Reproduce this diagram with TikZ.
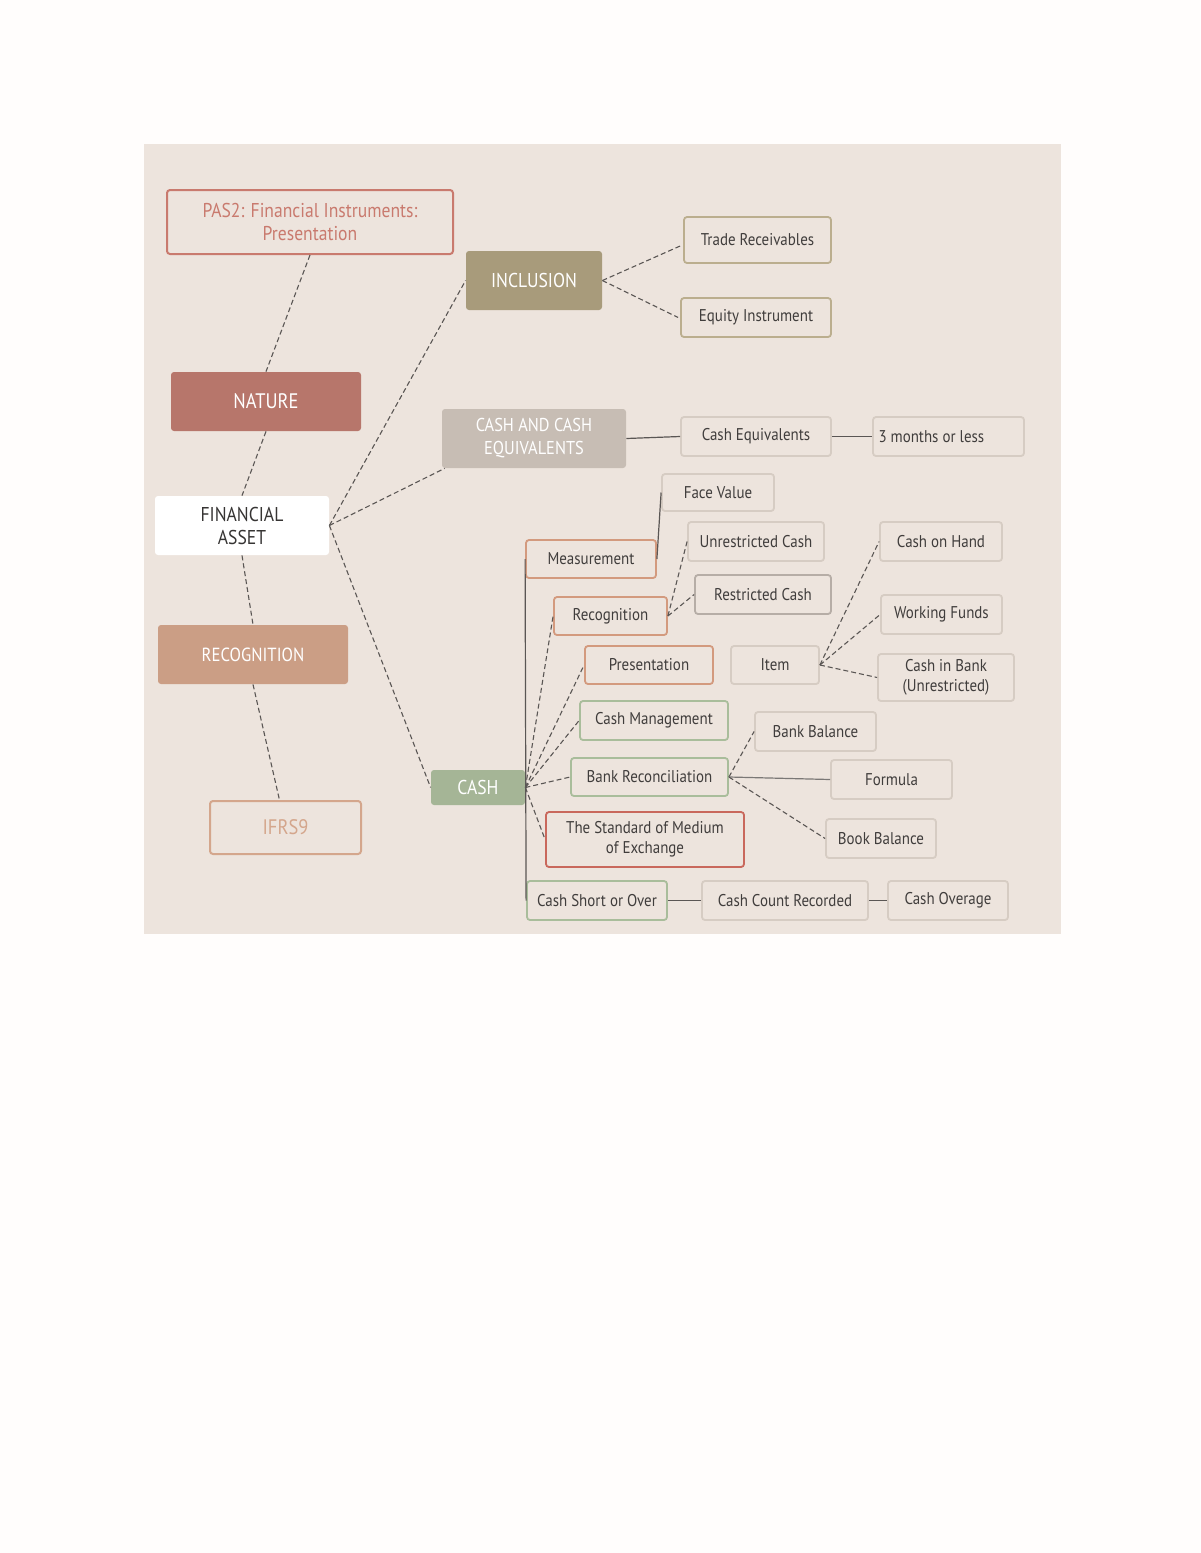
\documentclass[tikz,border=0pt]{standalone}
\usepackage{fontspec}
\setmainfont[FakeStretch=0.88]{PT Sans}
\usetikzlibrary{calc}
\definecolor{pagebg}{HTML}{FFFDFC}
\definecolor{diagbg}{HTML}{EDE4DD}
\definecolor{pasred}{HTML}{C97A6E}
\definecolor{inclfill}{HTML}{A89B7B}
\definecolor{natfill}{HTML}{B7766B}
\definecolor{ccefill}{HTML}{C7BDB4}
\definecolor{recfill}{HTML}{CB9E85}
\definecolor{ifrsc}{HTML}{D4A68C}
\definecolor{cashfill}{HTML}{A5B596}
\definecolor{khakib}{HTML}{BBAE8E}
\definecolor{lightb}{HTML}{D6CCC3}
\definecolor{orangeb}{HTML}{D39A7E}
\definecolor{greenb}{HTML}{A9BD9B}
\definecolor{redb}{HTML}{C9685C}
\definecolor{txtc}{HTML}{403D3C}
\definecolor{lineg}{HTML}{5A5654}
\tikzset{
  basebox/.style={rectangle, rounded corners=1.5pt, inner sep=0pt, align=center, text=txtc},
  bigbox/.style={basebox, draw=none, text=white, font=\fontsize{10}{11.5}\selectfont},
  smallbox/.style={basebox, draw=lightb, line width=0.9pt, font=\fontsize{8.5}{10}\selectfont},
  dashconn/.style={draw=lineg, line width=0.55pt, dash pattern=on 2.5pt off 1.5pt},
  solidconn/.style={draw=lineg, line width=0.6pt},
}
\begin{document}
\begin{tikzpicture}[x=0.5pt,y=-0.5pt]
\fill[pagebg] (0,0) rectangle (1200,1553);
\useasboundingbox (0,0) rectangle (1200,1553);
\fill[diagbg] (144,144) rectangle (1061,934);

% main nodes
\node[basebox, draw=pasred, line width=1pt, text=pasred, font=\fontsize{10}{11.5}\selectfont,
  minimum width=143pt, minimum height=32pt] (pas) at (310,222) {PAS2: Financial Instruments:\\Presentation};
\node[bigbox, fill=inclfill, minimum width=68pt, minimum height=29.5pt] (incl) at (534,280.5) {INCLUSION};
\node[bigbox, fill=natfill, font=\fontsize{10.5}{12}\selectfont, minimum width=95pt, minimum height=29.5pt] (nat) at (266,401.5) {NATURE};
\node[bigbox, fill=ccefill, font=\fontsize{9.3}{11.5}\selectfont, minimum width=92pt, minimum height=29.5pt] (cce) at (534,438.5) {CASH AND CASH\\EQUIVALENTS};
\node[bigbox, fill=white, text=txtc!85!black, minimum width=87pt, minimum height=29.5pt] (fa) at (242,525.5) {FINANCIAL\\ASSET};
\node[bigbox, fill=recfill, font=\fontsize{9.5}{11}\selectfont, minimum width=95pt, minimum height=29.5pt] (rec) at (253,654.5) {RECOGNITION};
\node[basebox, draw=ifrsc, line width=1pt, text=ifrsc, font=\fontsize{10.5}{12}\selectfont,
  minimum width=75.5pt, minimum height=26.5pt] (ifrs) at (285.5,827.5) {IFRS9};
\node[bigbox, fill=cashfill, minimum width=47pt, minimum height=17.5pt] (cash) at (478,787.5) {CASH};

% inclusion children
\node[smallbox, draw=khakib, minimum width=73.5pt, minimum height=23pt] (tr) at (757.5,240) {Trade Receivables};
\node[smallbox, draw=khakib, minimum width=75pt, minimum height=19.5pt] (eq) at (756,317.5) {Equity Instrument};

% cce children
\node[smallbox, minimum width=75pt, minimum height=19.5pt] (ceq) at (756,436.5) {Cash Equivalents};
\node[smallbox, minimum width=75.5pt, minimum height=19.5pt] (three) at (948.5,436.5) {\makebox[70pt][l]{3 months or less}};

% cash children
\node[smallbox, minimum width=56pt, minimum height=18.5pt] (face) at (718,492.5) {Face Value};
\node[smallbox, draw=orangeb, minimum width=65pt, minimum height=19pt] (meas) at (591,559) {Measurement};
\node[smallbox, minimum width=68pt, minimum height=19.5pt] (unres) at (756,541.5) {Unrestricted Cash};
\node[smallbox, draw=lightb!85!black, minimum width=68pt, minimum height=19.5pt] (res) at (763,594.5) {Restricted Cash};
\node[smallbox, draw=orangeb, minimum width=56.5pt, minimum height=19pt] (recs) at (610.5,616) {Recognition};
\node[smallbox, draw=orangeb, minimum width=64pt, minimum height=19pt] (pres) at (649,665) {Presentation};
\node[smallbox, minimum width=44pt, minimum height=19pt] (item) at (775,665) {Item};
\node[smallbox, minimum width=61pt, minimum height=19.5pt] (coh) at (941,541.5) {Cash on Hand};
\node[smallbox, minimum width=60.5pt, minimum height=19.5pt] (wf) at (941.5,614.5) {Working Funds};
\node[smallbox, minimum width=68pt, minimum height=23.5pt] (cib) at (946,677.5) {Cash in Bank\\(Unrestricted)};
\node[smallbox, draw=greenb, minimum width=74pt, minimum height=19.5pt] (cm) at (654,720.5) {Cash Management};
\node[smallbox, minimum width=60.5pt, minimum height=19.5pt] (bb) at (815.5,731.5) {Bank Balance};
\node[smallbox, draw=greenb, minimum width=78.5pt, minimum height=19pt] (br) at (649.5,777) {Bank Reconciliation};
\node[smallbox, minimum width=60.5pt, minimum height=19.5pt] (form) at (891.5,779.5) {Formula};
\node[smallbox, minimum width=55pt, minimum height=19.5pt] (book) at (881,838.5) {Book Balance};
\node[smallbox, draw=redb, minimum width=99pt, minimum height=27.5pt] (std) at (645,839.5) {The Standard of Medium\\of Exchange};
\node[smallbox, draw=greenb, minimum width=70pt, minimum height=19.5pt] (cso) at (597,900.5) {Cash Short or Over};
\node[smallbox, minimum width=83pt, minimum height=19.5pt] (ccr) at (785,900.5) {Cash Count Recorded};
\node[smallbox, minimum width=60pt, minimum height=19.5pt] (cov) at (948,900.5) {Cash Overage};

% connectors - left column
\draw[dashconn] (pas.south) -- (nat.north);
\draw[dashconn] (nat.south) -- (fa.north);
\draw[dashconn] (fa.south) -- (rec.north);
\draw[dashconn] (rec.south) -- ($(ifrs.north)+(-6,0)$);
% from financial asset
\draw[dashconn] (fa.east) -- (incl.west);
\draw[dashconn] (fa.east) -- ($(cce.south west)+(3,0)$);
\draw[dashconn] (fa.east) -- (cash.west);
% inclusion
\draw[dashconn] (incl.east) -- ($(tr.west)+(-3,6)$);
\draw[dashconn] (incl.east) -- ($(eq.west)+(-2,0)$);
% cce
\draw[solidconn] (cce.east) -- (ceq.west);
\draw[solidconn] (ceq.east) -- (three.west);
% cash
\draw[solidconn] (meas.west) -- (cso.west);
\draw[dashconn] (cash.east) -- (recs.west);
\draw[dashconn] (cash.east) -- (pres.west);
\draw[dashconn] (cash.east) -- (cm.west);
\draw[dashconn] (cash.east) -- (br.west);
\draw[dashconn] (cash.east) -- (std.west);
\draw[solidconn] (meas.east) -- (face.west);
\draw[dashconn] (recs.east) -- (unres.west);
\draw[dashconn] (recs.east) -- (res.west);
\draw[dashconn] (item.east) -- (coh.west);
\draw[dashconn] (item.east) -- (wf.west);
\draw[dashconn] (item.east) -- (cib.west);
\draw[dashconn] (br.east) -- (bb.west);
\draw[solidconn, draw=lineg!80] (br.east) -- (form.west);
\draw[dashconn] (br.east) -- (book.west);
\draw[solidconn] (cso.east) -- (ccr.west);
\draw[solidconn] (ccr.east) -- (cov.west);
\end{tikzpicture}
\end{document}
